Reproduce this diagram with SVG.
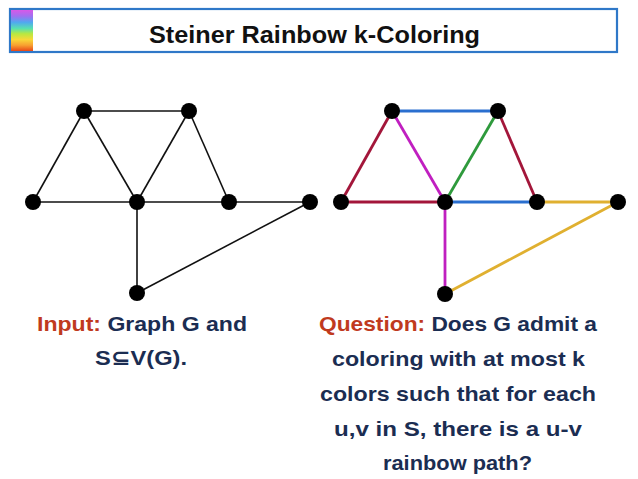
<svg xmlns="http://www.w3.org/2000/svg" width="638" height="479" viewBox="0 0 638 479">
<style>
.bg{fill:#ffffff}
.title{font-family:"Liberation Sans","DejaVu Sans",sans-serif;font-weight:bold;font-size:24px;fill:#111111}
.txt{font-family:"Liberation Sans","DejaVu Sans",sans-serif;font-weight:bold;font-size:21px;fill:#1b2d52}
.red{fill:#c03a1e}
.node{fill:#000000}
.e{stroke:#111111;stroke-width:1.6;fill:none}
.c{stroke-width:2.8;fill:none}
.blue{stroke:#2a6fcf}
.dred{stroke:#a3163a}
.mag{stroke:#c01fc0}
.grn{stroke:#2e9a3c}
.yel{stroke:#e0b030}
</style>
<defs>
<linearGradient id="rb" x1="0" y1="0" x2="0" y2="1">
<stop offset="0" stop-color="#d858e8"/>
<stop offset="0.15" stop-color="#a070f0"/>
<stop offset="0.3" stop-color="#50a8f0"/>
<stop offset="0.45" stop-color="#58e0b0"/>
<stop offset="0.58" stop-color="#b8e840"/>
<stop offset="0.72" stop-color="#f8d838"/>
<stop offset="0.86" stop-color="#f8a030"/>
<stop offset="1" stop-color="#e84818"/>
</linearGradient>
</defs>
<rect class="bg" x="0" y="0" width="638" height="479"/>
<g id="title">
<rect x="10" y="9" width="607" height="43" fill="#ffffff" stroke="#2f78c8" stroke-width="2.2"/>
<rect x="11" y="10" width="22" height="41" fill="url(#rb)"/>
<text class="title" x="149" y="43" textLength="331" lengthAdjust="spacingAndGlyphs">Steiner Rainbow k-Coloring</text>
</g>
<g id="connectors">
<g id="left-edges">
<line class="e" x1="84" y1="111" x2="189" y2="111"/>
<line class="e" x1="84" y1="111" x2="33" y2="202"/>
<line class="e" x1="84" y1="111" x2="137" y2="202"/>
<line class="e" x1="189" y1="111" x2="137" y2="202"/>
<line class="e" x1="189" y1="111" x2="229" y2="202"/>
<line class="e" x1="33" y1="202" x2="310" y2="202"/>
<line class="e" x1="137" y1="202" x2="137" y2="293"/>
<line class="e" x1="310" y1="202" x2="137" y2="293"/>
</g>
<g id="right-edges">
<line class="c blue" x1="392" y1="111" x2="498" y2="111"/>
<line class="c dred" x1="392" y1="111" x2="341" y2="202"/>
<line class="c mag" x1="392" y1="111" x2="445" y2="202"/>
<line class="c grn" x1="498" y1="111" x2="445" y2="202"/>
<line class="c dred" x1="498" y1="111" x2="537" y2="202"/>
<line class="c dred" x1="341" y1="202" x2="445" y2="202"/>
<line class="c blue" x1="445" y1="202" x2="537" y2="202"/>
<line class="c mag" x1="445" y1="202" x2="445" y2="294"/>
<line class="c yel" x1="537" y1="202" x2="618" y2="202"/>
<line class="c yel" x1="618" y1="202" x2="445" y2="294"/>
</g>
</g>
<g id="left-nodes">
<circle id="L1" class="node" cx="84" cy="111" r="8"/>
<circle id="L2" class="node" cx="189" cy="111" r="8"/>
<circle id="L3" class="node" cx="33" cy="202" r="8"/>
<circle id="L4" class="node" cx="137" cy="202" r="8"/>
<circle id="L5" class="node" cx="229" cy="202" r="8"/>
<circle id="L6" class="node" cx="310" cy="202" r="8"/>
<circle id="L7" class="node" cx="137" cy="293" r="8"/>
</g>
<g id="right-nodes">
<circle id="R1" class="node" cx="392" cy="111" r="8"/>
<circle id="R2" class="node" cx="498" cy="111" r="8"/>
<circle id="R3" class="node" cx="341" cy="202" r="8"/>
<circle id="R4" class="node" cx="445" cy="202" r="8"/>
<circle id="R5" class="node" cx="537" cy="202" r="8"/>
<circle id="R6" class="node" cx="618" cy="202" r="8"/>
<circle id="R7" class="node" cx="445" cy="294" r="8"/>
</g>
<g id="input-text">
<text class="txt" x="37" y="331" textLength="210" lengthAdjust="spacingAndGlyphs"><tspan class="red">Input:</tspan> Graph G and</text>
<text class="txt" x="95" y="365" textLength="92" lengthAdjust="spacingAndGlyphs">S⊆V(G).</text>
</g>
<g id="question-text">
<text class="txt" x="319" y="331" textLength="278" lengthAdjust="spacingAndGlyphs"><tspan class="red">Question:</tspan> Does G admit a</text>
<text class="txt" x="332" y="366" textLength="253" lengthAdjust="spacingAndGlyphs">coloring with at most k</text>
<text class="txt" x="320" y="401" textLength="276" lengthAdjust="spacingAndGlyphs">colors such that for each</text>
<text class="txt" x="334" y="436" textLength="248" lengthAdjust="spacingAndGlyphs">u,v in S, there is a u-v</text>
<text class="txt" x="383" y="470" textLength="149" lengthAdjust="spacingAndGlyphs">rainbow path?</text>
</g>
</svg>
